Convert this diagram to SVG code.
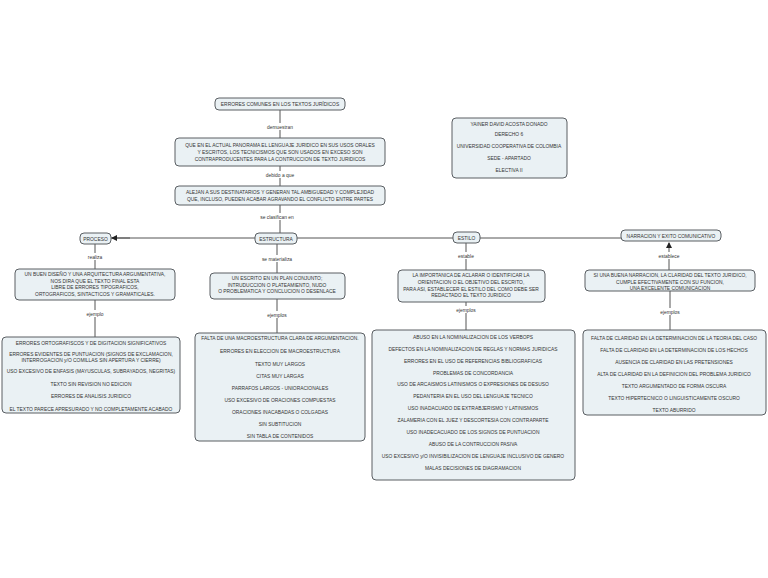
<svg xmlns="http://www.w3.org/2000/svg" width="768" height="578" viewBox="0 0 768 578">
<style>
.b{fill:#eaf1f4;stroke:#5a5f63;stroke-width:1}
text{font-family:"Liberation Sans",Arial,sans-serif;font-size:4.9px;fill:#333;text-anchor:middle}
.c{stroke:#555;stroke-width:1;fill:none}
</style>
<defs><marker id="a" markerWidth="6" markerHeight="6" refX="5" refY="3" orient="auto"><path d="M0,0L6,3L0,6z" fill="#222"/></marker></defs>
<rect width="768" height="578" fill="#fff"/>
<g id="connectors">
<path class="c" d="M280,110V138M280,166V186M280,205V233M80,238H720"/>
<path class="c" d="M130,238H112" marker-end="url(#a)"/>
<path class="c" d="M95,244V269M95,300V337M277,244V273M277,299V333M466,243V270M466,302V330"/>
<path class="c" d="M669,270V243" marker-end="url(#a)"/>
<path class="c" d="M670,291V330"/>
</g>
<g id="labels">
<rect x="258" y="123" width="44" height="7" fill="#fff"/><text x="280" y="128.5">demuestran</text>
<rect x="258" y="171" width="44" height="7" fill="#fff"/><text x="280" y="176.5">debido a que</text>
<rect x="252" y="213" width="50" height="7" fill="#fff"/><text x="277" y="218.5">se clasifican en</text>
<rect x="80" y="253" width="30" height="7" fill="#fff"/><text x="95" y="258.5">realiza</text>
<rect x="78" y="310" width="34" height="7" fill="#fff"/><text x="95" y="315.5">ejemplo</text>
<rect x="257" y="255" width="40" height="7" fill="#fff"/><text x="277" y="260.5">se materializa</text>
<rect x="260" y="311" width="34" height="7" fill="#fff"/><text x="277" y="316.5">ejemplos</text>
<rect x="452" y="252" width="28" height="7" fill="#fff"/><text x="466" y="257.5">estable</text>
<rect x="450" y="306" width="32" height="7" fill="#fff"/><text x="466" y="311.5">ejemplos</text>
<rect x="654" y="252" width="32" height="7" fill="#fff"/><text x="669" y="257.5">establece</text>
<rect x="654" y="308" width="32" height="7" fill="#fff"/><text x="670" y="313.5">ejemplos</text>
</g>
<g id="n1"><rect class="b" x="215" y="98" width="130" height="12" rx="4"/><text x="280" y="106">ERRORES COMUNES EN LOS TEXTOS JURÍDICOS</text></g>
<g id="n2"><rect class="b" x="175" y="138" width="210" height="28" rx="4"/><text x="280" y="147">QUE EN EL ACTUAL PANORAMA EL LENGUAJE JURIDICO EN SUS USOS ORALES</text><text x="280" y="154">Y ESCRITOS, LOS TECNICISMOS QUE SON USADOS EN EXCESO SON</text><text x="280" y="161">CONTRAPRODUCENTES PARA LA CONTRUCCION DE TEXTO JURIDICOS</text></g>
<g id="n3"><rect class="b" x="175" y="186" width="210" height="19" rx="4"/><text x="280" y="194">ALEJAN A SUS DESTINATARIOS Y GENERAN TAL AMBIGUEDAD Y COMPLEJIDAD</text><text x="280" y="201">QUE, INCLUSO, PUEDEN ACABAR AGRAVANDO EL CONFLICTO ENTRE PARTES</text></g>
<g id="info"><rect class="b" x="452" y="118" width="115" height="60" rx="4"/><text x="509" y="126">YAINER DAVID ACOSTA DONADO</text><text x="509" y="136">DERECHO 6</text><text x="509" y="148">UNIVERSIDAD COOPERATIVA DE COLOMBIA</text><text x="509" y="160">SEDE - APARTADO</text><text x="509" y="172">ELECTIVA II</text></g>
<g id="proceso"><rect class="b" x="80" y="233" width="31" height="11" rx="4"/><text x="95.5" y="240.5">PROCESO</text></g>
<g id="estructura"><rect class="b" x="255" y="233" width="42" height="11" rx="4"/><text x="276" y="240.5">ESTRUCTURA</text></g>
<g id="estilo"><rect class="b" x="453" y="232" width="27" height="11" rx="4"/><text x="466.5" y="239.5">ESTILO</text></g>
<g id="narracion"><rect class="b" x="621" y="230" width="100" height="11" rx="4"/><text x="671" y="237.5">NARRACION Y EXITO COMUNICATIVO</text></g>
<g id="p1"><rect class="b" x="15" y="269" width="160" height="31" rx="4"/><text x="95" y="276">UN BUEN DISEÑO Y UNA ARQUITECTURA ARGUMENTATIVA,</text><text x="95" y="283">NOS DIRA QUE EL TEXTO FINAL ESTA</text><text x="95" y="289">LIBRE DE ERRORES TIPOGRAFICOS,</text><text x="95" y="296">ORTOGRAFICOS, SINTACTICOS Y GRAMATICALES.</text></g>
<g id="p2"><rect class="b" x="2" y="337" width="178" height="76" rx="4"/><text x="91" y="345">ERRORES ORTOGRAFISCOS Y DE DIGITACION SIGNIFICATIVOS</text><text x="91" y="356">ERRORES EVIDENTES DE PUNTUACION (SIGNOS DE EXCLAMACION,</text><text x="91" y="362">INTERROGACION y/O COMILLAS SIN APERTURA Y CIERRE)</text><text x="91" y="373">USO EXCESIVO DE ENFASIS (MAYUSCULAS, SUBRAYADOS, NEGRITAS)</text><text x="91" y="386">TEXTO SIN REVISION NO EDICION</text><text x="91" y="398">ERRORES DE ANALISIS JURIDICO</text><text x="91" y="411">EL TEXTO PARECE APRESURADO Y NO COMPLETAMENTE ACABADO</text></g>
<g id="e1"><rect class="b" x="210" y="273" width="135" height="26" rx="4"/><text x="277" y="280">UN ESCRITO EN UN PLAN CONJUNTO;</text><text x="277" y="287">INTRUDUCCION O PLATEAMIENTO, NUDO</text><text x="277" y="293">O PROBLEMATICA Y CONCLUCION O DESENLACE</text></g>
<g id="e2"><rect class="b" x="195" y="333" width="170" height="108" rx="4"/><text x="280" y="340">FALTA DE UNA MACROESTRUCTURA CLARA DE ARGUMENTACION.</text><text x="280" y="353">ERRORES EN ELECCION DE MACROESTRUCTURA</text><text x="280" y="366">TEXTO MUY LARGOS</text><text x="280" y="378">CITAS MUY LARGAS</text><text x="280" y="390">PARRAFOS LARGOS - UNIORACIONALES</text><text x="280" y="402">USO EXCESIVO DE ORACIONES COMPUESTAS</text><text x="280" y="414">ORACIONES INACABADAS O COLGADAS</text><text x="280" y="426">SIN SUBTITUCION</text><text x="280" y="438">SIN TABLA DE CONTENIDOS</text></g>
<g id="s1"><rect class="b" x="398" y="270" width="147" height="32" rx="4"/><text x="471" y="277">LA IMPORTANICA DE ACLARAR O IDENTIFICAR LA</text><text x="471" y="284">ORIENTACION O EL OBJETIVO DEL ESCRITO,</text><text x="471" y="291">PARA ASI, ESTABLECER EL ESTILO DEL COMO DEBE SER</text><text x="471" y="297">REDACTADO EL TEXTO JURIDICO</text></g>
<g id="s2"><rect class="b" x="372" y="330" width="203" height="150" rx="4"/><text x="473" y="339">ABUSO EN LA NOMINALIZACION DE LOS VERBOPS</text><text x="473" y="351">DEFECTOS EN LA NOMINALIZACION DE REGLAS Y NORMAS JURIDICAS</text><text x="473" y="363">ERRORES EN EL USO DE REFERENCIAS BIBLIOGRAFICAS</text><text x="473" y="375">PROBLEMAS DE CONCORDANCIA</text><text x="473" y="386">USO DE ARCAISMOS LATINISMOS O EXPRESIONES DE DESUSO</text><text x="473" y="398">PEDANTERIA EN EL USO DEL LENGUAJE TECNICO</text><text x="473" y="410">USO INADACUADO DE EXTRABJERISMO Y LATINISMOS</text><text x="473" y="422">ZALAMERIA CON EL JUEZ Y DESCORTESIA CON CONTRAPARTE</text><text x="473" y="434">USO INADECACUADO DE LOS SIGNOS DE PUNTUACION</text><text x="473" y="446">ABUSO DE LA CONTRUCCION PASIVA</text><text x="473" y="458">USO EXCESIVO y/O INVISIBILIZACION DE LENGUAJE INCLUSIVO DE GENERO</text><text x="473" y="470">MALAS DECISIONES DE DIAGRAMACION</text></g>
<g id="r1"><rect class="b" x="585" y="270" width="170" height="21" rx="4"/><text x="670" y="277">SI UNA BUENA NARRACION, LA CLARIDAD DEL TEXTO JURIDICO,</text><text x="670" y="284">CUMPLE EFECTIVAMENTE CON SU FUNCION,</text><text x="670" y="290">UNA EXCELENTE COMUNICACION</text></g>
<g id="r2"><rect class="b" x="583" y="330" width="183" height="85" rx="4"/><text x="674" y="340">FALTA DE CLARIDAD EN LA DETERMINACION DE LA TEORIA DEL CASO</text><text x="674" y="352">FALTA DE CLARIDAD EN LA DETERMINACION DE LOS HECHOS</text><text x="674" y="364">AUSENCIA DE CLARIDAD EN LAS PRETENSIONES</text><text x="674" y="376">ALTA DE CLARIDAD EN LA DEFINICION DEL PROBLEMA JURIDICO</text><text x="674" y="388">TEXTO ARGUMENTADO DE FORMA OSCURA</text><text x="674" y="400">TEXTO HIPERTECNICO O LINGUISTICAMENTE OSCURO</text><text x="674" y="412">TEXTO ABURRIDO</text></g>
</svg>
